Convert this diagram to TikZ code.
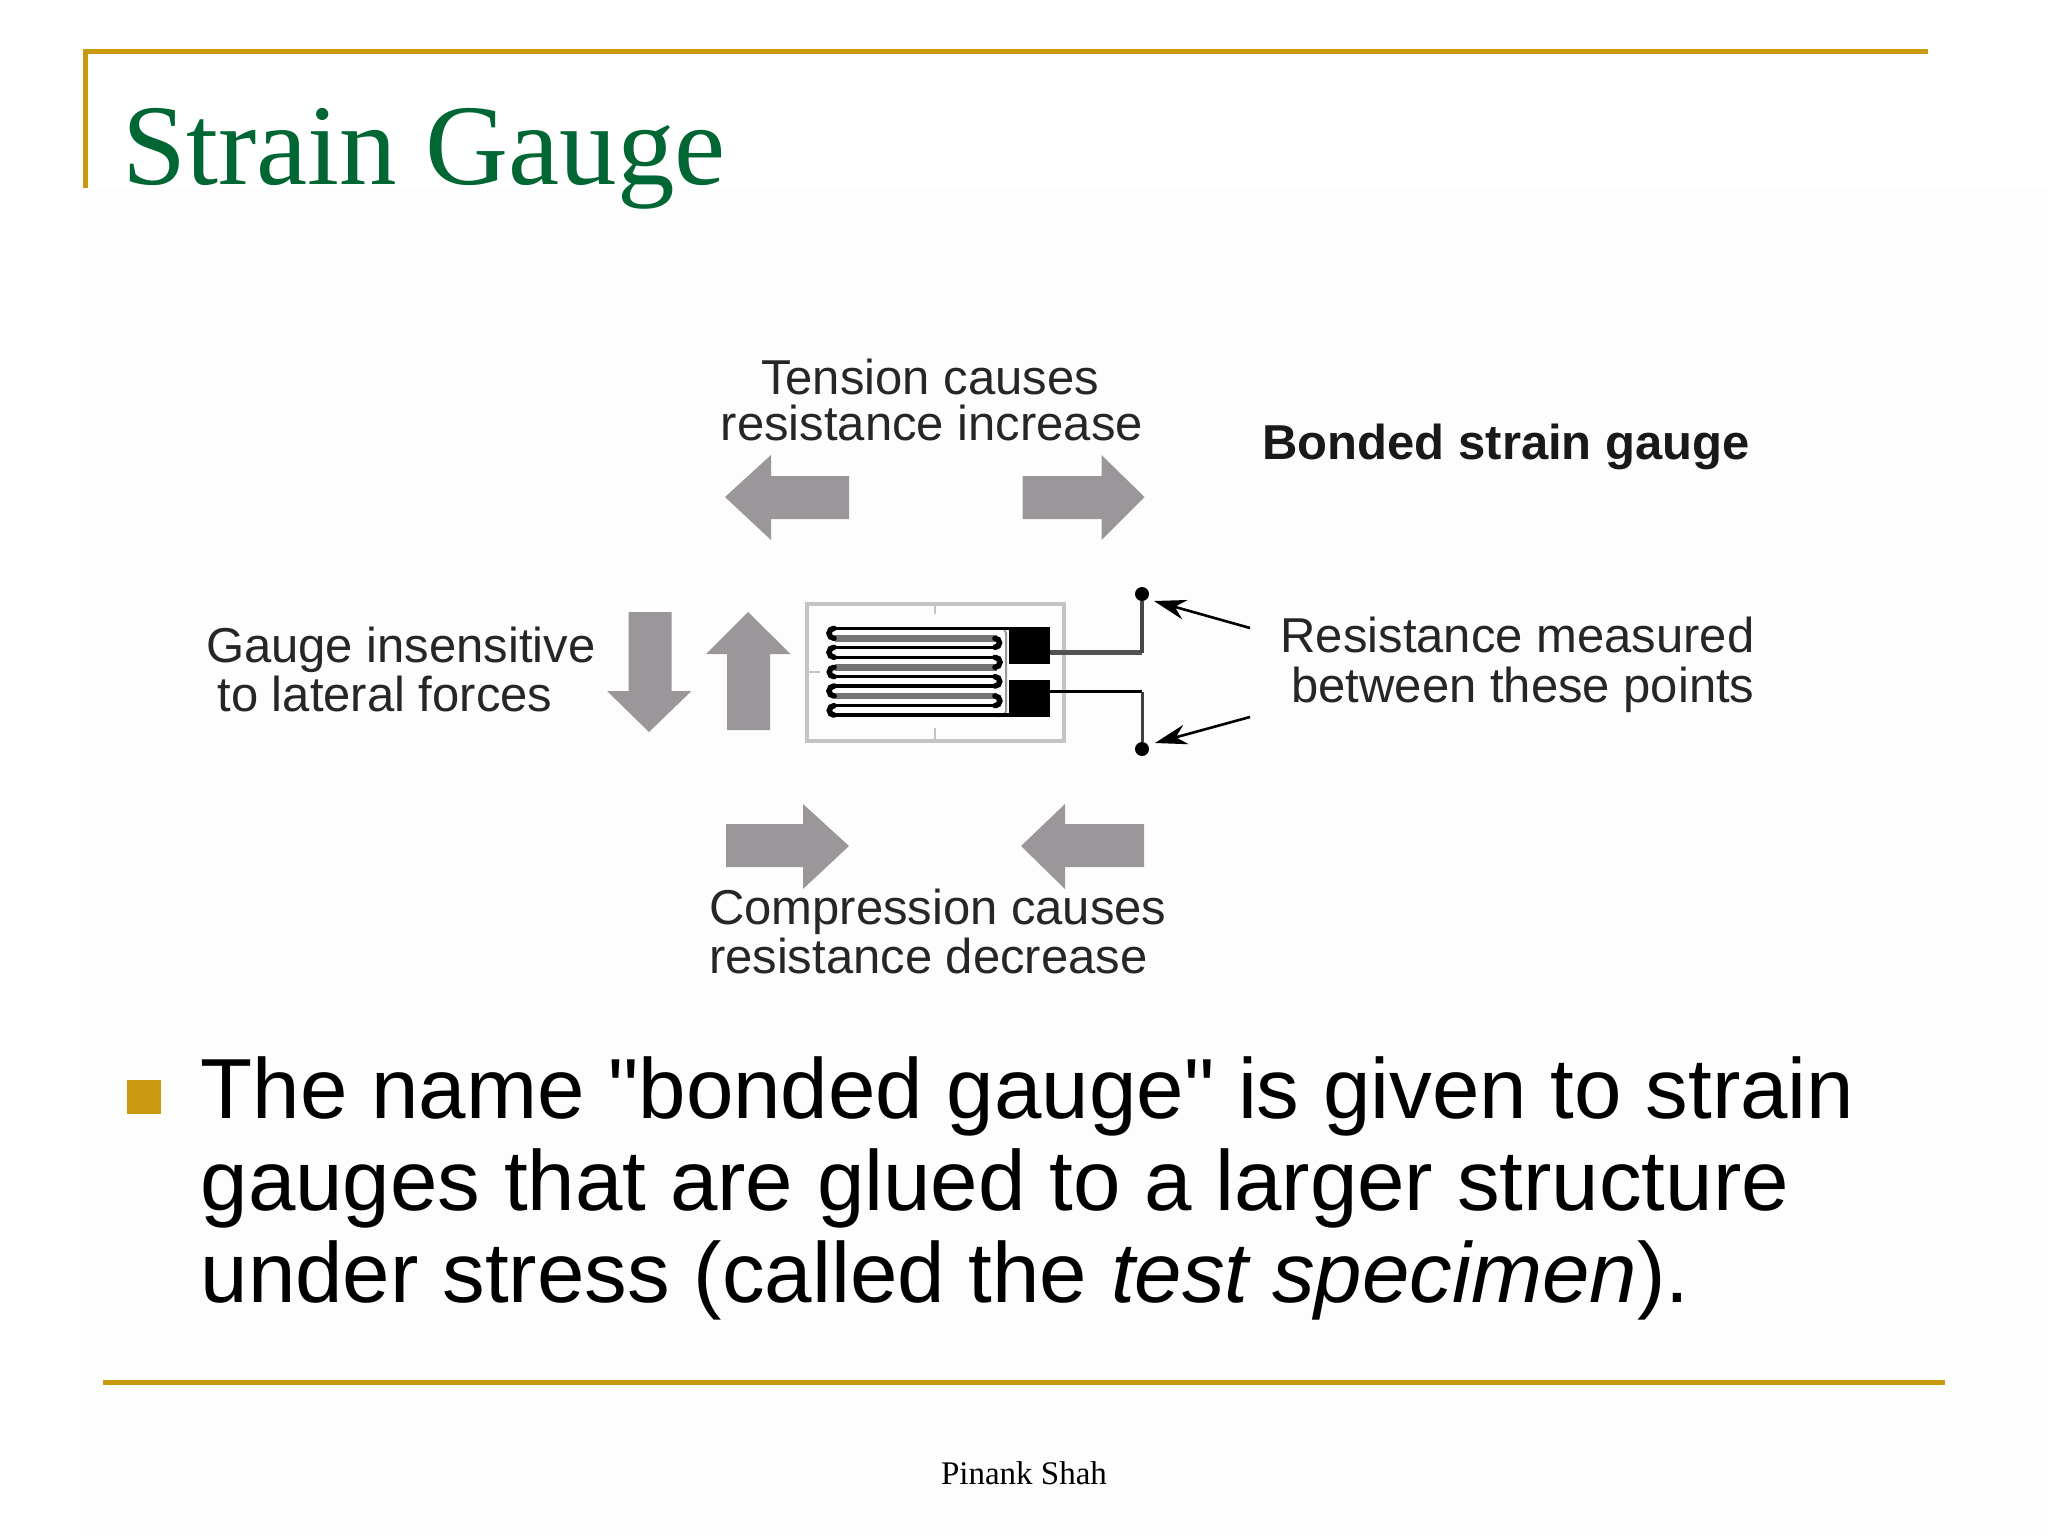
\documentclass[tikz,border=0pt]{standalone}
\usepackage{fontspec}
\setmainfont{Liberation Sans}
\newfontfamily\serifface{Liberation Serif}
\newfontfamily\bodyface{Liberation Sans}
\usetikzlibrary{arrows.meta}
\definecolor{gold}{HTML}{C99A10}
\definecolor{titlegreen}{HTML}{006633}
\definecolor{bigarrow}{HTML}{9A969A}
\definecolor{boxgray}{HTML}{C4C4C4}
\definecolor{textdark}{HTML}{262626}
\tikzset{
  rulegold/.style={draw=gold,line width=4.5pt},
  lab/.style={inner sep=0pt,outer sep=0pt,text=textdark,font=\fontsize{49}{55}\selectfont},
  force/.style={fill=bigarrow,draw=none},
  padbox/.style={fill=black,draw=none,inner sep=0pt,minimum width=41pt,minimum height=37pt},
  termdot/.style={circle,fill=black,draw=none,inner sep=0pt,minimum size=14pt},
  pointer/.style={line width=2.6pt,-{Stealth[length=32pt,width=20pt]}},
  grid/.style={line width=3.2pt,black,line join=round},
  gridgray/.style={line width=6.5pt,draw=black!55},
  loopend/.style={line width=5.5pt,black,line cap=round},
  bodyline/.style={inner sep=0pt,anchor=base west,font=\bodyface\fontsize{85.3}{92}\selectfont}
}
\begin{document}
\begin{tikzpicture}[x=1pt,y=-1pt]
\useasboundingbox (0,0) rectangle (2048,1536);
\fill[white] (0,0) rectangle (2048,1536);
\fill[black!0.6] (80,190) rectangle (2048,1536);
% frame
\draw[rulegold,line cap=butt] (85.5,188) -- (85.5,51.5) -- (1928,51.5);
\draw[rulegold] (103,1382.5) -- (1945,1382.5);
% title
\node[anchor=base west,inner sep=0pt,text=titlegreen,font=\serifface\fontsize{115}{120}\selectfont] (title) at (122,184) {Strain Gauge};
% labels
\node[lab,anchor=base] (t1) at (930,394) {Tension causes};
\node[lab,anchor=base] (t2) at (932,440) {resistance increase};
\node[lab,anchor=base west,font=\bfseries\fontsize{49}{55}\selectfont,text=black!90] (bonded) at (1262.5,459) {Bonded strain gauge};
\node[lab,anchor=base west] (g1) at (206,662) {Gauge insensitive};
\node[lab,anchor=base west] (g2) at (217.5,711) {to lateral forces};
\node[lab,anchor=base east] (r1) at (1754.5,652) {Resistance measured};
\node[lab,anchor=base east] (r2) at (1754.5,702) {between these points};
\node[lab,anchor=base west] (c1) at (709,924) {Compression causes};
\node[lab,anchor=base west] (c2) at (709,973) {resistance decrease};
% force arrows
\fill[force] (725,497) -- (771,455) -- (771,476) -- (849,476) -- (849,519) -- (771,519) -- (771,540) -- cycle;
\fill[force] (1144.5,497) -- (1101.5,455) -- (1101.5,476) -- (1022.5,476) -- (1022.5,519) -- (1101.5,519) -- (1101.5,540) -- cycle;
\fill[force] (849,846) -- (803,804) -- (803,824) -- (726,824) -- (726,867) -- (803,867) -- (803,889) -- cycle;
\fill[force] (1021,846) -- (1065,804) -- (1065,824) -- (1144,824) -- (1144,867) -- (1065,867) -- (1065,889) -- cycle;
\fill[force] (649,732) -- (607,691) -- (628.5,691) -- (628.5,612) -- (671.5,612) -- (671.5,691) -- (691.5,691) -- cycle;
\fill[force] (748,612) -- (706,654) -- (727,654) -- (727,730) -- (770,730) -- (770,654) -- (790.5,654) -- cycle;
% gauge backing
\draw[boxgray,line width=3.2pt] (807,604) rectangle (1064,741);
\draw[boxgray,line width=2pt] (935,604) -- (935,614) (935,728) -- (935,741) (807,672) -- (820,672);
% gauge grid
\draw[black!40,line width=2pt,rounded corners=5pt] (995,628) -- (1006,628) -- (1006,716) -- (995,716);
\draw[gridgray] (835,638.3) -- (997,638.3) (835,667.3) -- (997,667.3) (835,696) -- (997,696);
\draw[grid] (1010,628.3) -- (832,628.3)
  (997,647.3) -- (832,647.3) (832,657.3) -- (997,657.3)
  (832,676.7) -- (997,676.7)
  (997,686) -- (832,686)
  (997,705.7) -- (832,705.7) (832,715) -- (1010,715);
\draw[loopend] (834,628.3) arc[start angle=90,end angle=270,radius=5pt]
  (834,647.3) arc[start angle=90,end angle=270,radius=5pt]
  (834,667.3) arc[start angle=90,end angle=270,radius=4.7pt]
  (834,686) arc[start angle=90,end angle=270,radius=5pt]
  (834,705.7) arc[start angle=90,end angle=270,radius=4.7pt]
  (995,638.3) arc[start angle=90,end angle=-90,radius=4.5pt]
  (995,657.3) arc[start angle=90,end angle=-90,radius=5pt]
  (995,676.7) arc[start angle=90,end angle=-90,radius=4.7pt]
  (995,696) arc[start angle=90,end angle=-90,radius=4.85pt];
% pads, terminals, wires
\node[padbox] (padA) at (1029,645.5) {};
\node[padbox] (padB) at (1029,698.5) {};
\node[termdot] (dotA) at (1142,594) {};
\node[termdot] (dotB) at (1142,749) {};
\coordinate (bendA) at (1142,652.7);
\coordinate (bendB) at (1142,691.7);
\draw[line width=4.5pt,draw=black!68] (padA.east |- bendA) -- (bendA);
\draw[line width=3.2pt,draw=black!72] (bendA) -- (dotA);
\draw[line width=2.8pt,black] (padB.east |- bendB) -- (bendB);
\draw[line width=3pt,draw=black!75] (bendB) -- (dotB);
% pointers
\coordinate (p1) at (1250,628);
\coordinate (p2) at (1250,717);
\coordinate (t1e) at (1154,601);
\coordinate (t2e) at (1155,743);
\draw[pointer] (p1) -- (t1e);
\draw[pointer] (p2) -- (t2e);
% bullet text
\fill[gold] (127,1079.5) rectangle (161,1113.5);
\node[bodyline] (b1) at (200.5,1118.5) {The name "bonded gauge" is given to strain};
\node[bodyline] (b2) at (200.5,1210) {gauges that are glued to a larger structure};
\node[bodyline] (b3) at (200.5,1302) {under stress (called the \textit{test specimen}).};
\node[inner sep=0pt,anchor=base,font=\serifface\fontsize{33}{36}\selectfont] (foot) at (1024,1484) {Pinank Shah};
\end{tikzpicture}
\end{document}
